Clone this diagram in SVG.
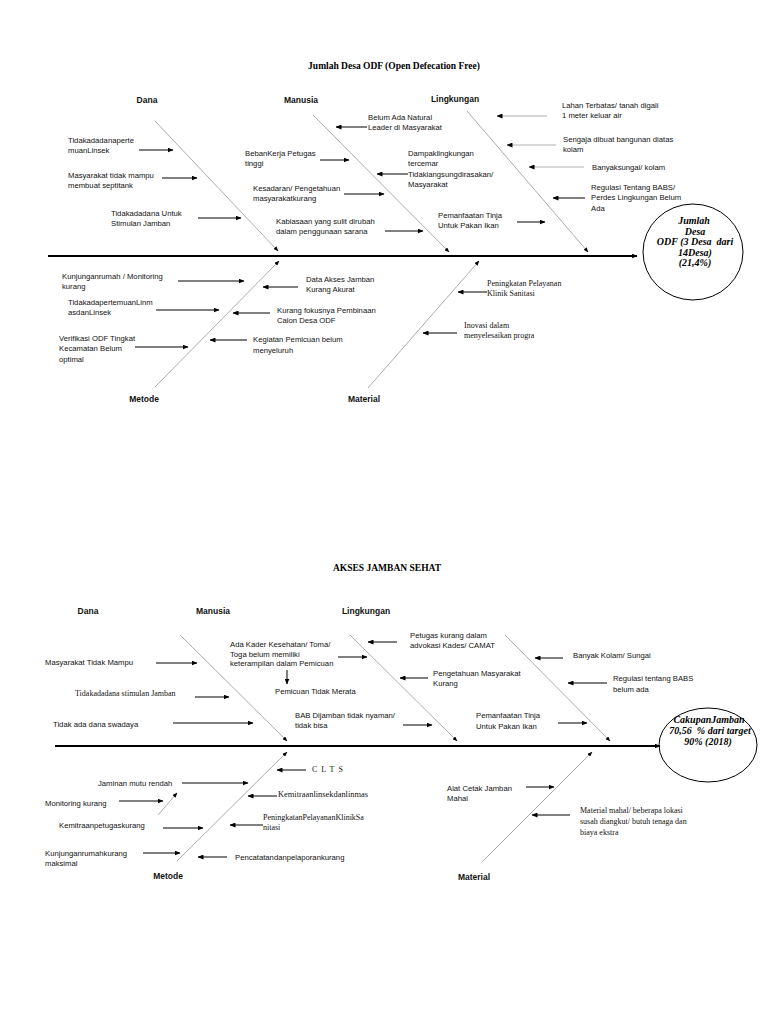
<svg xmlns="http://www.w3.org/2000/svg" width="768" height="1024" viewBox="0 0 768 1024">
<defs>
<marker id="ah" markerUnits="userSpaceOnUse" markerWidth="6" markerHeight="5" refX="5.5" refY="2.5" orient="auto"><path d="M0,0 L6,2.5 L0,5 z" fill="#000"/></marker>
<marker id="ahs" markerUnits="userSpaceOnUse" markerWidth="5" markerHeight="4" refX="4.5" refY="2" orient="auto"><path d="M0,0 L5,2 L0,4 z" fill="#000"/></marker>
<style>
.t{font-family:"Liberation Sans",Arial,sans-serif;font-size:7.7px;fill:#111}
.s{font-family:"Liberation Serif","Times New Roman",serif;font-size:8px;fill:#111}
.c{font-family:"Liberation Sans",Arial,sans-serif;font-size:8.5px;font-weight:bold;fill:#111;text-anchor:middle}
.h{font-family:"Liberation Serif","Times New Roman",serif;font-size:9.5px;font-weight:bold;fill:#000;text-anchor:middle}
.e{font-family:"Liberation Serif","Times New Roman",serif;font-size:10px;font-weight:bold;font-style:italic;fill:#000;text-anchor:middle}
.a{stroke:#000;stroke-width:1;fill:none;marker-end:url(#ah)}
.g{stroke:#b0b0b0;stroke-width:1;fill:none;marker-end:url(#ah)}
.b{stroke:#888;stroke-width:0.7;fill:none;marker-end:url(#ahs)}
.sp{stroke:#000;stroke-width:2;fill:none;marker-end:url(#ah)}
.o{stroke:#000;stroke-width:1;fill:#fff}
</style>
</defs>
<rect width="768" height="1024" fill="#fff"/>

<!-- ===== TOP DIAGRAM ===== -->
<g id="title1"><text class="h" x="394" y="69">Jumlah Desa ODF (Open Defecation Free)</text></g>
<g id="cat1">
<text class="c" x="147" y="103">Dana</text>
<text class="c" x="301" y="103">Manusia</text>
<text class="c" x="455" y="102">Lingkungan</text>
<text class="c" x="144" y="402">Metode</text>
<text class="c" x="364" y="402">Material</text>
</g>
<g id="effect1">
<ellipse class="o" cx="693" cy="252" rx="50" ry="48"/>
<text class="e" x="694" y="224">Jumlah</text>
<text class="e" x="695" y="235">Desa</text>
<text class="e" x="695" y="245">ODF (3 Desa&#160; dari</text>
<text class="e" x="695" y="256">14Desa)</text>
<text class="e" x="695" y="266">(21,4%)</text>
</g>

<g id="causes1-dana">
<text class="t" x="68" y="143">Tidakadadanaperte<tspan x="68" y="153">muanLinsek</tspan></text>
<text class="t" x="68" y="178">Masyarakat tidak mampu<tspan x="68" y="188">membuat septitank</tspan></text>
<text class="t" x="111" y="216">Tidakadadana Untuk<tspan x="111" y="226">Stimulan Jamban</tspan></text>
</g>
<g id="causes1-manusia">
<text class="t" x="368" y="120">Belum Ada Natural<tspan x="368" y="130">Leader di Masyarakat</tspan></text>
<text class="t" x="245" y="156">BebanKerja Petugas<tspan x="245" y="166">tinggi</tspan></text>
<text class="t" x="408" y="156">Dampaklingkungan<tspan x="408" y="166">tercemar</tspan><tspan x="408" y="177">Tidaklangsungdirasakan/</tspan><tspan x="408" y="187">Masyarakat</tspan></text>
<text class="t" x="253" y="191">Kesadaran/ Pengetahuan<tspan x="253" y="201">masyarakatkurang</tspan></text>
<text class="t" x="276" y="224">Kabiasaan yang sulit dirubah<tspan x="276" y="234">dalam penggunaan sarana</tspan></text>
</g>
<g id="causes1-lingkungan">
<text class="t" x="562" y="108">Lahan Terbatas/ tanah digali<tspan x="562" y="118">1 meter keluar air</tspan></text>
<text class="t" x="563" y="142">Sengaja dibuat bangunan diatas<tspan x="563" y="152">kolam</tspan></text>
<text class="t" x="592" y="170">Banyaksungai/ kolam</text>
<text class="t" x="591" y="190">Regulasi Tentang BABS/<tspan x="591" y="200">Perdes Lingkungan Belum</tspan><tspan x="591" y="211">Ada</tspan></text>
<text class="t" x="438" y="218">Pemanfaatan Tinja<tspan x="438" y="228">Untuk Pakan Ikan</tspan></text>
</g>
<g id="causes1-metode">
<text class="t" x="62" y="279">Kunjunganrumah / Monitoring<tspan x="62" y="289">kurang</tspan></text>
<text class="t" x="306" y="282">Data Akses Jamban<tspan x="306" y="292">Kurang Akurat</tspan></text>
<text class="t" x="68" y="305">TidakadapertemuanLinm<tspan x="68" y="315">asdanLinsek</tspan></text>
<text class="t" x="277" y="313">Kurang fokusnya Pembinaan<tspan x="277" y="323">Calon Desa ODF</tspan></text>
<text class="t" x="59" y="341">Verifikasi ODF Tingkat<tspan x="59" y="351">Kecamatan Belum</tspan><tspan x="59" y="362">optimal</tspan></text>
<text class="t" x="253" y="342">Kegiatan Pemicuan belum<tspan x="253" y="353">menyeluruh</tspan></text>
</g>
<g id="causes1-material">
<text class="s" x="487" y="286">Peningkatan Pelayanan<tspan x="487" y="296">Klinik Sanitasi</tspan></text>
<text class="s" x="464" y="328">Inovasi dalam<tspan x="464" y="338">menyelesaikan progra</tspan></text>
</g>

<g id="connectors1">
<line class="sp" x1="48" y1="256" x2="637" y2="256"/>
<line class="b" x1="155" y1="121" x2="278" y2="251"/>
<line class="b" x1="313" y1="115" x2="449" y2="252"/>
<line class="b" x1="467" y1="111" x2="588" y2="252"/>
<line class="b" x1="155" y1="387" x2="279" y2="261"/>
<line class="b" x1="368" y1="388" x2="479" y2="261"/>
<line class="a" x1="139" y1="150" x2="173" y2="150"/>
<line class="a" x1="162" y1="178" x2="197" y2="178"/>
<line class="a" x1="198" y1="218" x2="241" y2="218"/>
<line class="a" x1="367" y1="127" x2="336" y2="127"/>
<line class="a" x1="320" y1="160" x2="349" y2="160"/>
<line class="a" x1="408" y1="174" x2="377" y2="174"/>
<line class="a" x1="344" y1="194" x2="384" y2="194"/>
<line class="a" x1="385" y1="231" x2="423" y2="231"/>
<line class="g" x1="547" y1="116" x2="497" y2="116"/>
<line class="g" x1="556" y1="145" x2="507" y2="145"/>
<line class="g" x1="584" y1="167" x2="529" y2="167"/>
<line class="a" x1="585" y1="198" x2="553" y2="198"/>
<line class="a" x1="517" y1="222" x2="545" y2="222"/>
<line class="a" x1="178" y1="281" x2="244" y2="281"/>
<line class="a" x1="298" y1="287" x2="263" y2="287"/>
<line class="a" x1="156" y1="310" x2="219" y2="310"/>
<line class="a" x1="270" y1="313" x2="233" y2="313"/>
<line class="a" x1="135" y1="347" x2="188" y2="347"/>
<line class="a" x1="247" y1="340" x2="210" y2="340"/>
<line class="a" x1="487" y1="292" x2="458" y2="292"/>
<line class="a" x1="457" y1="333" x2="423" y2="333"/>
</g>

<!-- ===== BOTTOM DIAGRAM ===== -->
<g id="title2"><text class="h" x="387" y="571">AKSES JAMBAN SEHAT</text></g>
<g id="cat2">
<text class="c" x="88" y="614">Dana</text>
<text class="c" x="213" y="614">Manusia</text>
<text class="c" x="366" y="614">Lingkungan</text>
<text class="c" x="168" y="879">Metode</text>
<text class="c" x="474" y="880">Material</text>
</g>
<g id="effect2">
<ellipse class="o" cx="708" cy="745" rx="49" ry="37"/>
<text class="e" x="709" y="723">CakupanJamban</text>
<text class="e" x="710" y="734">70,56&#160; % dari target</text>
<text class="e" x="708" y="745">90% (2018)</text>
</g>

<g id="causes2-dana">
<text class="t" x="45" y="665">Masyarakat Tidak Mampu</text>
<text class="s" x="75" y="696">Tidakadadana stimulan Jamban</text>
<text class="t" x="53" y="727">Tidak ada dana swadaya</text>
</g>
<g id="causes2-manusia">
<text class="t" x="230" y="647">Ada Kader Kesehatan/ Toma/<tspan x="230" y="656.5">Toga belum memiliki</tspan><tspan x="230" y="666">keterampilan dalam Pemicuan</tspan></text>
<text class="t" x="275" y="694">Pemicuan Tidak Merata</text>
<text class="t" x="295" y="718">BAB Dijamban tidak nyaman/<tspan x="295" y="728">tidak bisa</tspan></text>
</g>
<g id="causes2-lingkungan">
<text class="t" x="410" y="638">Petugas kurang dalam<tspan x="410" y="648">advokasi Kades/ CAMAT</tspan></text>
<text class="t" x="433" y="676">Pengetahuan Masyarakat<tspan x="433" y="686">Kurang</tspan></text>
<text class="t" x="573" y="658">Banyak Kolam/ Sungai</text>
<text class="t" x="613" y="681">Regulasi tentang BABS<tspan x="613" y="692">belum ada</tspan></text>
<text class="t" x="476" y="718">Pemanfaatan Tinja<tspan x="476" y="729">Untuk Pakan Ikan</tspan></text>
</g>
<g id="causes2-metode">
<text class="s" x="312" y="772" letter-spacing="4">CLTS</text>
<text class="t" x="98" y="786">Jaminan mutu rendah</text>
<text class="s" x="278" y="797" textLength="90" lengthAdjust="spacingAndGlyphs">Kemitraanlinsekdanlinmas</text>
<text class="t" x="45" y="806">Monitoring kurang</text>
<text class="t" x="59" y="828">Kemitraanpetugaskurang</text>
<text class="s" x="263" y="820">PeningkatanPelayananKlinikSa<tspan x="263" y="830">nitasi</tspan></text>
<text class="t" x="45" y="856">Kunjunganrumahkurang<tspan x="45" y="866">maksimal</tspan></text>
<text class="t" x="235" y="860">Pencatatandanpelaporankurang</text>
</g>
<g id="causes2-material">
<text class="t" x="447" y="791">Alat Cetak Jamban<tspan x="447" y="801">Mahal</tspan></text>
<text class="s" x="580" y="813">Material mahal/ beberapa lokasi<tspan x="580" y="824">susah diangkut/ butuh tenaga dan</tspan><tspan x="580" y="835">biaya ekstra</tspan></text>
</g>

<g id="connectors2">
<line class="sp" x1="55" y1="746" x2="660" y2="746"/>
<line class="b" x1="180" y1="635" x2="287" y2="741"/>
<line class="b" x1="350" y1="635" x2="457" y2="741"/>
<line class="b" x1="505" y1="635" x2="610" y2="741"/>
<line class="b" x1="177" y1="861" x2="287" y2="752"/>
<line class="b" x1="158" y1="815" x2="177" y2="793"/>
<line class="b" x1="482" y1="862" x2="592" y2="752"/>
<line class="a" x1="156" y1="663" x2="197" y2="663"/>
<line class="a" x1="195" y1="697" x2="229" y2="697"/>
<line class="a" x1="173" y1="723" x2="253" y2="723"/>
<line class="a" x1="338" y1="657" x2="367" y2="657"/>
<line class="a" x1="287" y1="670" x2="287" y2="684"/>
<line class="a" x1="403" y1="725" x2="432" y2="725"/>
<line class="a" x1="397" y1="642" x2="368" y2="642"/>
<line class="a" x1="428" y1="678" x2="400" y2="678"/>
<line class="a" x1="563" y1="658" x2="535" y2="658"/>
<line class="a" x1="607" y1="683" x2="568" y2="683"/>
<line class="a" x1="558" y1="723" x2="587" y2="723"/>
<line class="a" x1="306" y1="770" x2="277" y2="770"/>
<line class="a" x1="182" y1="783" x2="248" y2="783"/>
<line class="a" x1="277" y1="796" x2="248" y2="796"/>
<line class="a" x1="119" y1="801" x2="163" y2="801"/>
<line class="a" x1="163" y1="828" x2="203" y2="828"/>
<line class="a" x1="263" y1="825" x2="230" y2="825"/>
<line class="a" x1="143" y1="853" x2="180" y2="853"/>
<line class="a" x1="227" y1="857" x2="198" y2="857"/>
<line class="a" x1="526" y1="787" x2="554" y2="787"/>
<line class="a" x1="570" y1="815" x2="532" y2="815"/>
</g>
</svg>
